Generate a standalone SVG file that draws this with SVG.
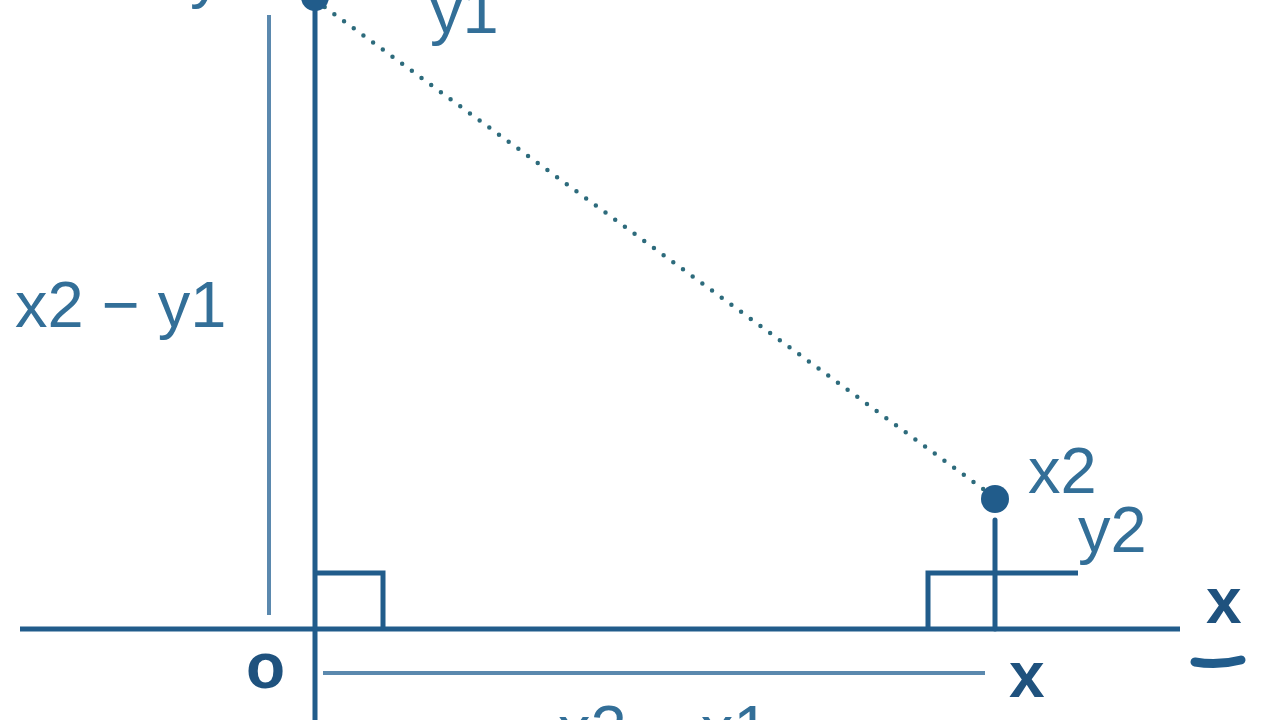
<svg xmlns="http://www.w3.org/2000/svg" width="1280" height="720" viewBox="0 0 1280 720">
<style>
.ax{stroke:#215c8b;stroke-width:5;fill:none}
.dim{stroke:#5b89ae;stroke-width:4;fill:none}
.lbl{font-family:"Liberation Sans",Arial,sans-serif;font-size:65px;fill:#336f98}
.bold{font-family:"Liberation Sans",Arial,sans-serif;font-size:64px;font-weight:bold;fill:#1f527e}
.pt{fill:#215c8b}
</style>
<rect width="1280" height="720" fill="#ffffff"/>
<g id="connectors">
<line x1="315" y1="0" x2="990" y2="494" stroke="#2d6b7c" stroke-width="4.5" stroke-dasharray="0 12" stroke-linecap="round"/>
<line class="dim" x1="269" y1="15" x2="269" y2="615"/>
<line class="dim" x1="323" y1="673" x2="985" y2="673" stroke-width="5"/>
</g>
<g id="axes">
<line class="ax" x1="20" y1="629" x2="1180" y2="629"/>
<line class="ax" x1="315" y1="0" x2="315" y2="720"/>
<polyline class="ax" points="315,573 383,573 383,629"/>
<polyline class="ax" points="928,629 928,573 1078,573"/>
<line class="ax" x1="995" y1="520" x2="995" y2="629" stroke-linecap="round"/>
</g>
<g id="point1">
<circle class="pt" cx="315" cy="-3" r="14"/>
<text class="lbl" x="430" y="33">y1</text>
</g>
<g id="point2">
<circle class="pt" cx="995" cy="499" r="14"/>
<text class="lbl" x="1028" y="493">x2</text>
<text class="lbl" x="1078" y="552">y2</text>
</g>
<g id="y-axis-label">
<text class="lbl" x="190" y="-4">y</text>
</g>
<g id="x-axis-label">
<text class="bold" x="1206" y="623">x</text>
<path d="M1195,662 Q1218,666 1241,660" stroke="#215c8b" stroke-width="9" fill="none" stroke-linecap="round"/>
</g>
<g id="origin">
<text class="bold" x="246" y="688" font-size="78">o</text>
</g>
<g id="x-mark">
<text class="bold" x="1009" y="697">x</text>
</g>
<g id="vertical-dimension">
<text class="lbl" x="15" y="327">x2 − y1</text>
</g>
<g id="horizontal-dimension">
<text class="lbl" x="558" y="751">x2 − x1</text>
</g>
</svg>
